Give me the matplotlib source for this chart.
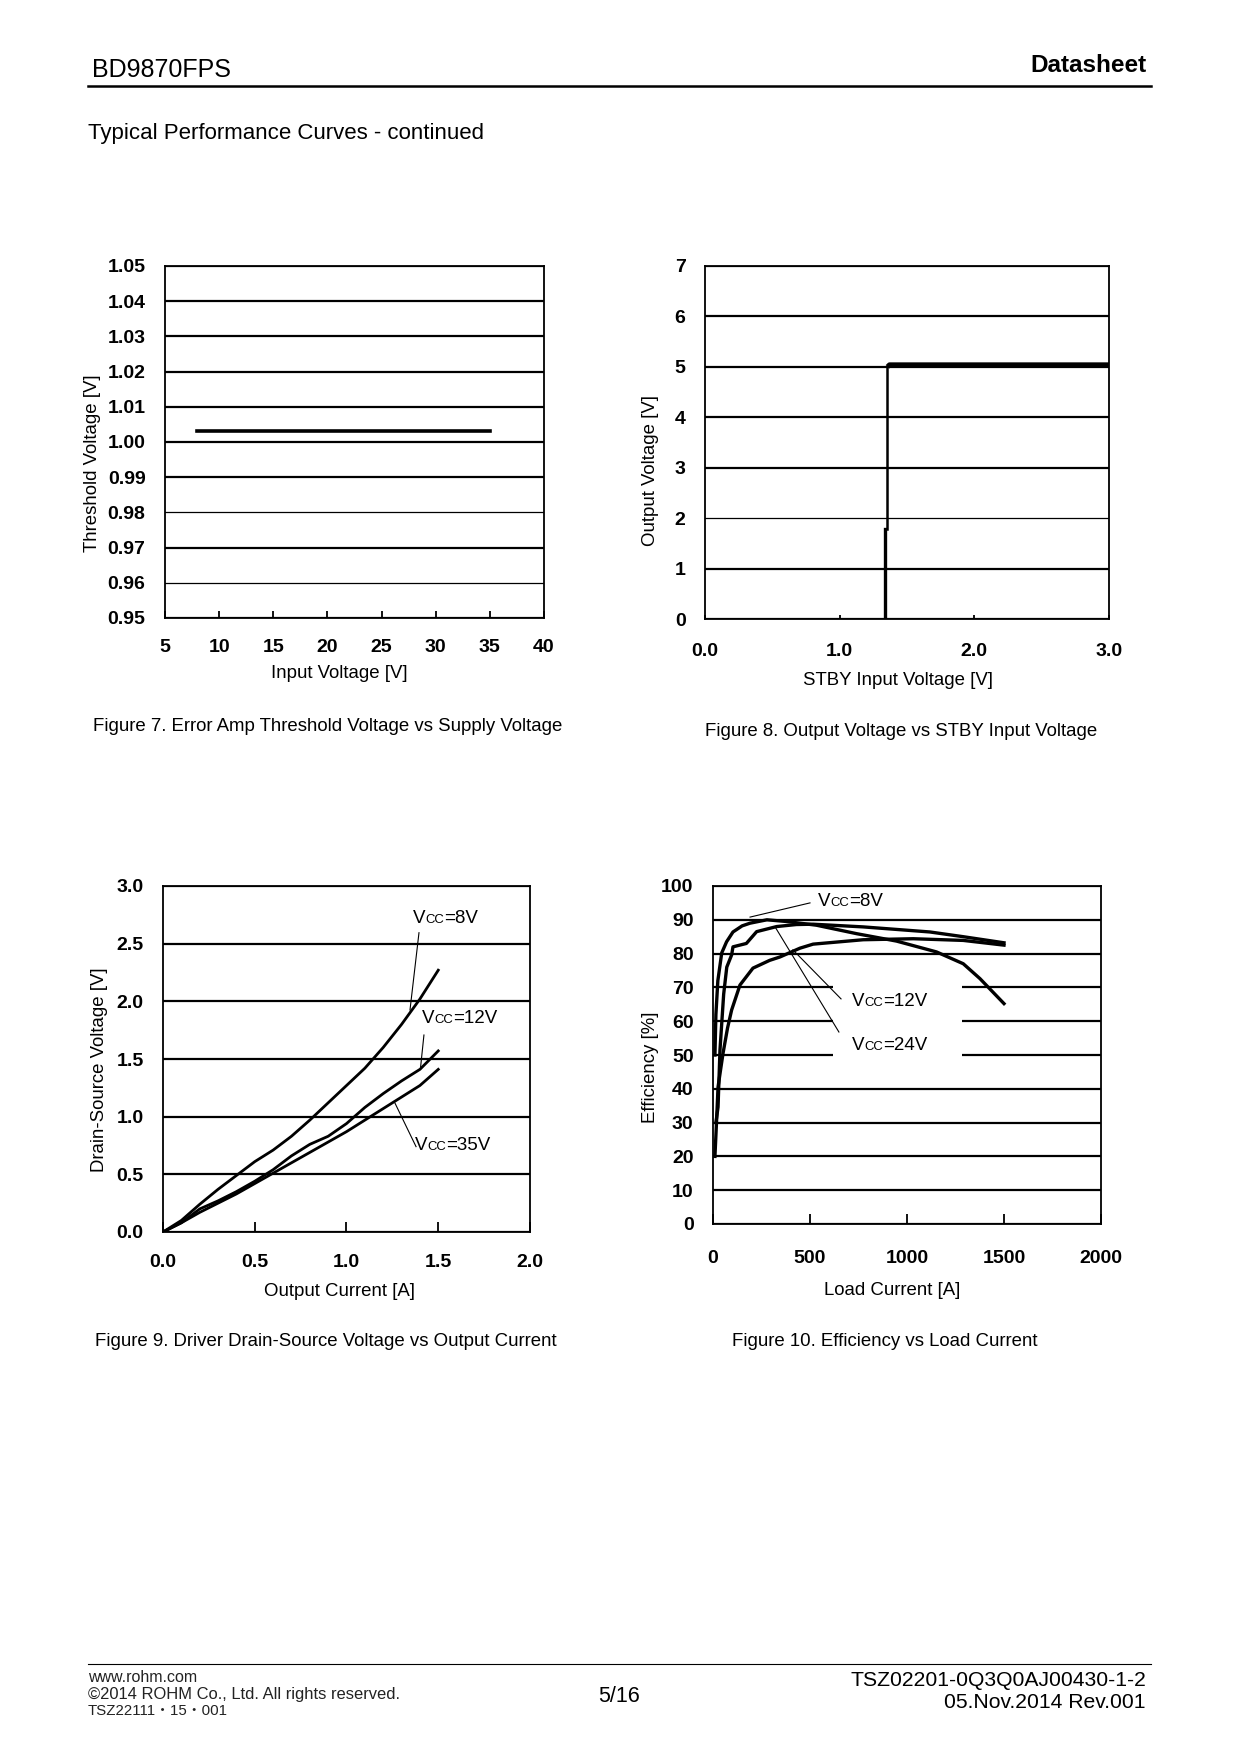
import matplotlib
matplotlib.use("Agg")
import matplotlib.pyplot as plt
from matplotlib.offsetbox import TextArea, HPacker, AnnotationBbox
from matplotlib.patches import Rectangle

# Figure 7: error amp threshold voltage vs input voltage
input_v = [8, 10, 15, 20, 25, 30, 35]
threshold_v = [1.003, 1.003, 1.003, 1.003, 1.003, 1.003, 1.003]

# Figure 8: output voltage vs STBY input voltage
stby_v = [1.34, 1.34, 1.355, 1.355, 1.37, 3.0]
stby_out = [0.0, 1.78, 1.78, 5.0, 5.04, 5.04]

# Figure 9: drain-source voltage vs output current
iout = [0, 0.1, 0.2, 0.3, 0.4, 0.5, 0.6, 0.7, 0.8, 0.9, 1.0, 1.1, 1.2, 1.3, 1.4, 1.5]
vds_8v = [0, 0.1, 0.24, 0.37, 0.49, 0.61, 0.71, 0.83, 0.97, 1.12, 1.27, 1.42, 1.6, 1.8, 2.02, 2.27]
vds_12v = [0, 0.08, 0.2, 0.27, 0.35, 0.44, 0.54, 0.66, 0.76, 0.83, 0.94, 1.08, 1.2, 1.31, 1.41, 1.57]
vds_35v = [0, 0.08, 0.17, 0.25, 0.33, 0.42, 0.51, 0.6, 0.69, 0.78, 0.87, 0.97, 1.07, 1.17, 1.27, 1.41]

# Figure 10: efficiency vs load current
load_8v = [10, 15, 25, 45, 70, 103, 150, 191, 278, 378, 533, 740, 946, 1152, 1290, 1376, 1500]
eff_8v = [50, 62, 72, 80.2, 83.5, 86.4, 88.2, 89, 90, 89.5, 88.4, 85.9, 83.7, 80.5, 77, 72.6, 65.2]
load_12v = [15, 26, 36, 55, 71, 96, 103, 172, 225, 328, 430, 516, 774, 1118, 1290, 1500]
eff_12v = [30, 34.6, 51.5, 68, 76, 79.6, 82, 83, 86.5, 88, 88.6, 88.7, 87.9, 86.4, 85, 83.2]
load_24v = [10, 18, 26, 40, 52, 75, 96, 139, 206, 292, 345, 448, 516, 774, 1032, 1290, 1500]
eff_24v = [20, 30, 40.5, 46, 50.6, 58, 63.3, 70.7, 75.7, 78, 79, 81.6, 82.8, 84.1, 84.4, 83.9, 82.5]

W, H = 1240, 1754
plt.rcParams["font.family"] = ["Liberation Sans", "DejaVu Sans"]

fig = plt.figure(figsize=(W / 100, H / 100), dpi=100)


def px_axes(left, right, top, bottom):
    return fig.add_axes([left / W, 1 - bottom / H, (right - left) / W, (bottom - top) / H])


def style(ax, xlabel, ylabel, xlab_pos, ylab_pos, xpad, tick_len, thin=()):
    for s in ax.spines.values():
        s.set_linewidth(1.3)
    ax.tick_params(axis="y", length=0, pad=14)
    ax.tick_params(axis="x", direction="in", length=tick_len, width=1.3, pad=xpad)
    for lab in ax.get_xticklabels() + ax.get_yticklabels():
        lab.set_fontweight("bold")
        lab.set_fontsize(14)
    ax.set_axisbelow(True)
    ax.grid(axis="y", color="black", linewidth=1.6)
    for val, gl in zip(ax.get_yticks(), ax.get_ygridlines()):
        if any(abs(val - t) < 1e-9 for t in thin):
            gl.set_linewidth(0.9)
    ax.set_xlabel(xlabel, fontsize=13.4)
    ax.set_ylabel(ylabel, fontsize=13.4)
    ax.xaxis.set_label_coords(*xlab_pos)
    ax.yaxis.set_label_coords(*ylab_pos)


def vcc_label(ax, x, y, suffix, size=13.5):
    parts = [TextArea("V", textprops=dict(size=size)),
             TextArea("CC", textprops=dict(size=size * 0.7)),
             TextArea(suffix, textprops=dict(size=size))]
    box = HPacker(children=parts, align="baseline", pad=0, sep=0)
    ab = AnnotationBbox(box, (x, y), xycoords="data", box_alignment=(0, 0.5),
                        frameon=False, pad=0, zorder=5)
    ax.add_artist(ab)


def leader(ax, x0, y0, x1, y1):
    ax.plot([x0, x1], [y0, y1], color="black", lw=0.8, zorder=4)


# ---- Figure 7 ----
ax1 = px_axes(165, 544, 266, 618)
ax1.plot(input_v, threshold_v, color="black", lw=2.6, zorder=3)
ax1.set_xlim(5, 40)
ax1.set_ylim(0.95, 1.05)
ax1.set_xticks([5, 10, 15, 20, 25, 30, 35, 40])
ax1.set_yticks([0.95 + 0.01 * i for i in range(11)])
ax1.set_yticklabels([f"{0.95 + 0.01 * i:.2f}" for i in range(11)])
style(ax1, "Input Voltage [V]", "Threshold Voltage [V]", (0.46, -0.133), (-0.170, 0.44),
      xpad=15, tick_len=5, thin=(0.96, 0.98))

# ---- Figure 8 ----
ax2 = px_axes(705, 1109, 266, 619)
ax2.plot(stby_v[:2], stby_out[:2], color="black", lw=2.4, zorder=3)
ax2.plot(stby_v[2:4], stby_out[2:4], color="black", lw=1.8, zorder=3)
ax2.plot(stby_v[3:], stby_out[3:], color="black", lw=3.6, zorder=3, solid_capstyle="butt")
ax2.set_xlim(0, 3)
ax2.set_ylim(0, 7)
ax2.set_xticks([0, 1, 2, 3])
ax2.set_xticklabels(["0.0", "1.0", "2.0", "3.0"])
ax2.set_yticks(range(8))
style(ax2, "STBY Input Voltage [V]", "Output Voltage [V]", (0.478, -0.151), (-0.114, 0.42),
      xpad=17.5, tick_len=3, thin=(2,))

# ---- Figure 9 ----
ax3 = px_axes(163, 530, 886, 1232)
for vds in (vds_8v, vds_12v, vds_35v):
    ax3.plot(iout, vds, color="black", lw=2.0, zorder=3)
ax3.set_xlim(0, 2)
ax3.set_ylim(0, 3)
ax3.set_xticks([0, 0.5, 1.0, 1.5, 2.0])
ax3.set_xticklabels(["0.0", "0.5", "1.0", "1.5", "2.0"])
ax3.set_yticks([0, 0.5, 1.0, 1.5, 2.0, 2.5, 3.0])
ax3.set_yticklabels(["0.0", "0.5", "1.0", "1.5", "2.0", "2.5", "3.0"])
style(ax3, "Output Current [A]", "Drain-Source Voltage [V]", (0.482, -0.147), (-0.150, 0.468),
      xpad=16, tick_len=7)
vcc_label(ax3, 1.362, 2.72, "=8V")
vcc_label(ax3, 1.411, 1.855, "=12V")
vcc_label(ax3, 1.373, 0.754, "=35V")
leader(ax3, 1.395, 2.595, 1.346, 1.925)
leader(ax3, 1.422, 1.708, 1.404, 1.433)
leader(ax3, 1.379, 0.74, 1.264, 1.118)

# ---- Figure 10 ----
ax4 = px_axes(713, 1101, 886, 1224)
ax4.plot(load_8v, eff_8v, color="black", lw=2.4, zorder=3)
ax4.plot(load_12v, eff_12v, color="black", lw=2.4, zorder=3)
ax4.plot(load_24v, eff_24v, color="black", lw=2.4, zorder=3)
ax4.set_xlim(0, 2000)
ax4.set_ylim(0, 100)
ax4.set_xticks([0, 500, 1000, 1500, 2000])
ax4.set_yticks(range(0, 101, 10))
style(ax4, "Load Current [A]", "Efficiency [%]", (0.461, -0.173), (-0.139, 0.464),
      xpad=19, tick_len=7)
# white gap behind the 12V / 24V labels
ax4.add_patch(Rectangle((619, 47), 665, 25, facecolor="white", edgecolor="none", zorder=1))
vcc_label(ax4, 541, 95.3, "=8V")
vcc_label(ax4, 717, 65.7, "=12V")
vcc_label(ax4, 717, 52.7, "=24V")
leader(ax4, 500, 95, 191, 90.8)
leader(ax4, 660, 66.6, 412, 81.1)
leader(ax4, 649, 56.8, 320, 87.9)

# ---- captions ----
cap_size = 13.4
fig.text(328 / W, 1 - 726 / H, "Figure 7. Error Amp Threshold Voltage vs Supply Voltage",
         ha="center", va="center", fontsize=cap_size)
fig.text(901 / W, 1 - 732 / H, "Figure 8. Output Voltage vs STBY Input Voltage",
         ha="center", va="center", fontsize=cap_size)
fig.text(326 / W, 1 - 1341 / H, "Figure 9. Driver Drain-Source Voltage vs Output Current",
         ha="center", va="center", fontsize=cap_size)
fig.text(885 / W, 1 - 1341 / H, "Figure 10. Efficiency vs Load Current",
         ha="center", va="center", fontsize=cap_size)

# ---- page header / footer ----
fig.text(92 / W, 1 - 70 / H, "BD9870FPS", ha="left", va="center", fontsize=18)
fig.text(1146 / W, 1 - 66 / H, "Datasheet", ha="right", va="center", fontsize=17.5,
         fontweight="bold")
fig.add_artist(plt.Line2D([88 / W, 1151 / W], [1 - 86 / H, 1 - 86 / H], color="black", lw=1.8))
fig.text(88 / W, 1 - 134 / H, "Typical Performance Curves - continued", ha="left",
         va="center", fontsize=16)

fig.add_artist(plt.Line2D([88 / W, 1151 / W], [1 - 1664 / H, 1 - 1664 / H], color="black", lw=0.8))
fig.text(88 / W, 1 - 1677 / H, "www.rohm.com", ha="left", va="center", fontsize=11.5,
         color="#222222")
fig.text(88 / W, 1 - 1694 / H, "\u00a92014 ROHM Co., Ltd. All rights reserved.", ha="left",
         va="center", fontsize=11.9, color="#222222")
fig.text(88 / W, 1 - 1711 / H, "TSZ22111\u30fb15\u30fb001", ha="left", va="center", fontsize=10.8,
         color="#222222", family=["Liberation Sans", "Noto Sans CJK JP"])
fig.text(619 / W, 1 - 1697 / H, "5/16", ha="center", va="center", fontsize=15.5)
fig.text(1146 / W, 1 - 1680 / H, "TSZ02201-0Q3Q0AJ00430-1-2", ha="right", va="center",
         fontsize=15.2)
fig.text(1146 / W, 1 - 1702 / H, "05.Nov.2014 Rev.001", ha="right", va="center", fontsize=15.2)

fig.savefig("out.png", dpi=100, facecolor="white")
